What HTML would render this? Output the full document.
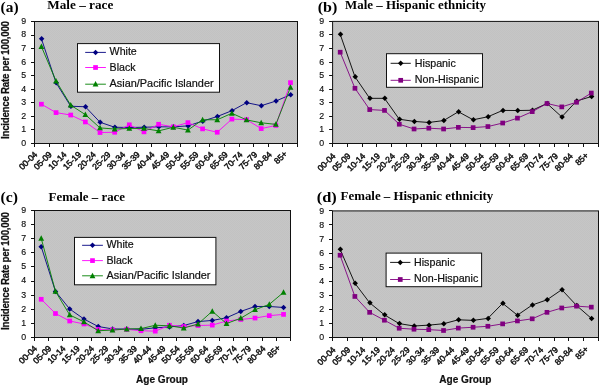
<!DOCTYPE html>
<html lang="en"><head><meta charset="utf-8"><title>Incidence rate by age group</title>
<style>
html,body{margin:0;padding:0;background:#fff;}
body{width:600px;height:386px;overflow:hidden;}
svg{display:block;filter:blur(0.3px);}
text{font-family:"Liberation Sans",Arial,sans-serif;fill:#111;}
.yt{font-size:8.6px;stroke:#111;stroke-width:0.15px;}
.xt{font-size:8.6px;stroke:#111;stroke-width:0.45px;}
.lg{font-size:10.3px;stroke:#111;stroke-width:0.2px;}
.yl{font-size:9.7px;font-weight:bold;stroke:#111;stroke-width:0.25px;}
.xl{font-size:10px;font-weight:bold;stroke:#111;stroke-width:0.2px;}
.pl{font-family:"Liberation Serif","Times New Roman",serif;font-weight:bold;font-size:15px;fill:#000;}
.pt{font-family:"Liberation Serif","Times New Roman",serif;font-weight:bold;font-size:11.8px;fill:#000;}
</style></head><body>
<svg width="600" height="386" viewBox="0 0 600 386">
<defs><pattern id="dither" width="2" height="2" patternUnits="userSpaceOnUse"><rect width="2" height="2" fill="#c6c6c6"/><rect width="1" height="1" fill="#c2c2c2"/><rect x="1" y="1" width="1" height="1" fill="#c2c2c2"/></pattern></defs>
<rect width="600" height="386" fill="#ffffff"/>
<g class="chart chart-a">
<rect x="34.5" y="21.5" width="263.00" height="122.00" fill="url(#dither)" stroke="#111" stroke-width="1"/>
<path d="M31.00 143.50H34.50M31.00 129.50H34.50M31.00 116.50H34.50M31.00 102.50H34.50M31.00 89.50H34.50M31.00 75.50H34.50M31.00 62.50H34.50M31.00 48.50H34.50M31.00 35.50H34.50M31.00 21.50H34.50M34.50 143.50V147.00M49.50 143.50V147.00M63.50 143.50V147.00M78.50 143.50V147.00M92.50 143.50V147.00M107.50 143.50V147.00M122.50 143.50V147.00M136.50 143.50V147.00M151.50 143.50V147.00M166.50 143.50V147.00M180.50 143.50V147.00M195.50 143.50V147.00M209.50 143.50V147.00M224.50 143.50V147.00M239.50 143.50V147.00M253.50 143.50V147.00M268.50 143.50V147.00M282.50 143.50V147.00M297.50 143.50V147.00" stroke="#111" stroke-width="1" fill="none"/>
<text class="yt" x="26.10" y="145.90" text-anchor="end" textLength="4.9" lengthAdjust="spacingAndGlyphs">0</text>
<text class="yt" x="26.10" y="132.34" text-anchor="end" textLength="4.9" lengthAdjust="spacingAndGlyphs">1</text>
<text class="yt" x="26.10" y="118.79" text-anchor="end" textLength="4.9" lengthAdjust="spacingAndGlyphs">2</text>
<text class="yt" x="26.10" y="105.23" text-anchor="end" textLength="4.9" lengthAdjust="spacingAndGlyphs">3</text>
<text class="yt" x="26.10" y="91.68" text-anchor="end" textLength="4.9" lengthAdjust="spacingAndGlyphs">4</text>
<text class="yt" x="26.10" y="78.12" text-anchor="end" textLength="4.9" lengthAdjust="spacingAndGlyphs">5</text>
<text class="yt" x="26.10" y="64.57" text-anchor="end" textLength="4.9" lengthAdjust="spacingAndGlyphs">6</text>
<text class="yt" x="26.10" y="51.01" text-anchor="end" textLength="4.9" lengthAdjust="spacingAndGlyphs">7</text>
<text class="yt" x="26.10" y="37.46" text-anchor="end" textLength="4.9" lengthAdjust="spacingAndGlyphs">8</text>
<text class="yt" x="26.10" y="23.90" text-anchor="end" textLength="4.9" lengthAdjust="spacingAndGlyphs">9</text>
<text class="xt" text-anchor="end" transform="translate(37.81 155.10) rotate(-45)" x="0" y="0" textLength="21.6" lengthAdjust="spacing">00-04</text>
<text class="xt" text-anchor="end" transform="translate(52.47 155.10) rotate(-45)" x="0" y="0" textLength="21.6" lengthAdjust="spacing">05-09</text>
<text class="xt" text-anchor="end" transform="translate(67.13 155.10) rotate(-45)" x="0" y="0" textLength="21.6" lengthAdjust="spacing">10-14</text>
<text class="xt" text-anchor="end" transform="translate(81.80 155.10) rotate(-45)" x="0" y="0" textLength="21.6" lengthAdjust="spacing">15-19</text>
<text class="xt" text-anchor="end" transform="translate(96.46 155.10) rotate(-45)" x="0" y="0" textLength="21.6" lengthAdjust="spacing">20-24</text>
<text class="xt" text-anchor="end" transform="translate(111.13 155.10) rotate(-45)" x="0" y="0" textLength="21.6" lengthAdjust="spacing">25-29</text>
<text class="xt" text-anchor="end" transform="translate(125.79 155.10) rotate(-45)" x="0" y="0" textLength="21.6" lengthAdjust="spacing">30-34</text>
<text class="xt" text-anchor="end" transform="translate(140.45 155.10) rotate(-45)" x="0" y="0" textLength="21.6" lengthAdjust="spacing">35-39</text>
<text class="xt" text-anchor="end" transform="translate(155.12 155.10) rotate(-45)" x="0" y="0" textLength="21.6" lengthAdjust="spacing">40-44</text>
<text class="xt" text-anchor="end" transform="translate(169.78 155.10) rotate(-45)" x="0" y="0" textLength="21.6" lengthAdjust="spacing">45-49</text>
<text class="xt" text-anchor="end" transform="translate(184.45 155.10) rotate(-45)" x="0" y="0" textLength="21.6" lengthAdjust="spacing">50-54</text>
<text class="xt" text-anchor="end" transform="translate(199.11 155.10) rotate(-45)" x="0" y="0" textLength="21.6" lengthAdjust="spacing">55-59</text>
<text class="xt" text-anchor="end" transform="translate(213.77 155.10) rotate(-45)" x="0" y="0" textLength="21.6" lengthAdjust="spacing">60-64</text>
<text class="xt" text-anchor="end" transform="translate(228.44 155.10) rotate(-45)" x="0" y="0" textLength="21.6" lengthAdjust="spacing">65-69</text>
<text class="xt" text-anchor="end" transform="translate(243.10 155.10) rotate(-45)" x="0" y="0" textLength="21.6" lengthAdjust="spacing">70-74</text>
<text class="xt" text-anchor="end" transform="translate(257.77 155.10) rotate(-45)" x="0" y="0" textLength="21.6" lengthAdjust="spacing">75-79</text>
<text class="xt" text-anchor="end" transform="translate(272.43 155.10) rotate(-45)" x="0" y="0" textLength="21.6" lengthAdjust="spacing">80-84</text>
<text class="xt" text-anchor="end" transform="translate(287.79 154.40) rotate(-45)" x="0" y="0" textLength="14.4" lengthAdjust="spacing">85+</text>
<polyline fill="none" stroke="#000080" stroke-width="0.9" points="41.41,38.72 56.06,82.78 70.71,106.23 85.36,106.77 100.01,122.22 114.67,127.24 129.32,127.51 143.97,127.24 158.62,126.83 173.28,126.83 187.93,125.88 202.58,121.14 217.23,116.53 231.89,110.70 246.54,102.70 261.19,105.69 275.84,101.08 290.49,94.71"/>
<path d="M41.61 35.97L44.36 38.72L41.61 41.47L38.86 38.72Z" fill="#000080"/>
<path d="M56.26 80.03L59.01 82.78L56.26 85.53L53.51 82.78Z" fill="#000080"/>
<path d="M70.91 103.48L73.66 106.23L70.91 108.98L68.16 106.23Z" fill="#000080"/>
<path d="M85.56 104.02L88.31 106.77L85.56 109.52L82.81 106.77Z" fill="#000080"/>
<path d="M100.21 119.47L102.96 122.22L100.21 124.97L97.46 122.22Z" fill="#000080"/>
<path d="M114.87 124.49L117.62 127.24L114.87 129.99L112.12 127.24Z" fill="#000080"/>
<path d="M129.52 124.76L132.27 127.51L129.52 130.26L126.77 127.51Z" fill="#000080"/>
<path d="M144.17 124.49L146.92 127.24L144.17 129.99L141.42 127.24Z" fill="#000080"/>
<path d="M158.82 124.08L161.57 126.83L158.82 129.58L156.07 126.83Z" fill="#000080"/>
<path d="M173.48 124.08L176.23 126.83L173.48 129.58L170.73 126.83Z" fill="#000080"/>
<path d="M188.13 123.13L190.88 125.88L188.13 128.63L185.38 125.88Z" fill="#000080"/>
<path d="M202.78 118.39L205.53 121.14L202.78 123.89L200.03 121.14Z" fill="#000080"/>
<path d="M217.43 113.78L220.18 116.53L217.43 119.28L214.68 116.53Z" fill="#000080"/>
<path d="M232.09 107.95L234.84 110.70L232.09 113.45L229.34 110.70Z" fill="#000080"/>
<path d="M246.74 99.95L249.49 102.70L246.74 105.45L243.99 102.70Z" fill="#000080"/>
<path d="M261.39 102.94L264.14 105.69L261.39 108.44L258.64 105.69Z" fill="#000080"/>
<path d="M276.04 98.33L278.79 101.08L276.04 103.83L273.29 101.08Z" fill="#000080"/>
<path d="M290.69 91.96L293.44 94.71L290.69 97.46L287.94 94.71Z" fill="#000080"/>
<polyline fill="none" stroke="#ff00ff" stroke-width="0.9" points="41.41,104.20 56.06,112.60 70.71,115.04 85.36,121.95 100.01,132.53 114.67,132.26 129.32,124.80 143.97,131.85 158.62,124.26 173.28,126.83 187.93,122.63 202.58,128.87 217.23,132.26 231.89,119.11 246.54,119.65 261.19,128.60 275.84,125.48 290.49,82.64"/>
<rect x="39.06" y="101.85" width="4.7" height="4.7" fill="#ff00ff"/>
<rect x="53.71" y="110.25" width="4.7" height="4.7" fill="#ff00ff"/>
<rect x="68.36" y="112.69" width="4.7" height="4.7" fill="#ff00ff"/>
<rect x="83.01" y="119.60" width="4.7" height="4.7" fill="#ff00ff"/>
<rect x="97.66" y="130.18" width="4.7" height="4.7" fill="#ff00ff"/>
<rect x="112.32" y="129.91" width="4.7" height="4.7" fill="#ff00ff"/>
<rect x="126.97" y="122.45" width="4.7" height="4.7" fill="#ff00ff"/>
<rect x="141.62" y="129.50" width="4.7" height="4.7" fill="#ff00ff"/>
<rect x="156.27" y="121.91" width="4.7" height="4.7" fill="#ff00ff"/>
<rect x="170.93" y="124.48" width="4.7" height="4.7" fill="#ff00ff"/>
<rect x="185.58" y="120.28" width="4.7" height="4.7" fill="#ff00ff"/>
<rect x="200.23" y="126.52" width="4.7" height="4.7" fill="#ff00ff"/>
<rect x="214.88" y="129.91" width="4.7" height="4.7" fill="#ff00ff"/>
<rect x="229.54" y="116.76" width="4.7" height="4.7" fill="#ff00ff"/>
<rect x="244.19" y="117.30" width="4.7" height="4.7" fill="#ff00ff"/>
<rect x="258.84" y="126.25" width="4.7" height="4.7" fill="#ff00ff"/>
<rect x="273.49" y="123.13" width="4.7" height="4.7" fill="#ff00ff"/>
<rect x="288.14" y="80.29" width="4.7" height="4.7" fill="#ff00ff"/>
<polyline fill="none" stroke="#008000" stroke-width="0.9" points="41.41,46.58 56.06,81.02 70.71,105.14 85.36,114.63 100.01,127.92 114.67,129.00 129.32,128.46 143.97,128.46 158.62,130.90 173.28,127.24 187.93,130.09 202.58,119.78 217.23,119.78 231.89,113.28 246.54,119.92 261.19,122.77 275.84,124.39 290.49,87.25"/>
<path d="M41.41 43.48L44.31 48.98L38.51 48.98Z" fill="#008000"/>
<path d="M56.06 77.92L58.96 83.42L53.16 83.42Z" fill="#008000"/>
<path d="M70.71 102.04L73.61 107.54L67.81 107.54Z" fill="#008000"/>
<path d="M85.36 111.53L88.26 117.03L82.46 117.03Z" fill="#008000"/>
<path d="M100.01 124.82L102.91 130.32L97.11 130.32Z" fill="#008000"/>
<path d="M114.67 125.90L117.57 131.40L111.77 131.40Z" fill="#008000"/>
<path d="M129.32 125.36L132.22 130.86L126.42 130.86Z" fill="#008000"/>
<path d="M143.97 125.36L146.87 130.86L141.07 130.86Z" fill="#008000"/>
<path d="M158.62 127.80L161.52 133.30L155.72 133.30Z" fill="#008000"/>
<path d="M173.28 124.14L176.18 129.64L170.38 129.64Z" fill="#008000"/>
<path d="M187.93 126.99L190.83 132.49L185.03 132.49Z" fill="#008000"/>
<path d="M202.58 116.68L205.48 122.18L199.68 122.18Z" fill="#008000"/>
<path d="M217.23 116.68L220.13 122.18L214.33 122.18Z" fill="#008000"/>
<path d="M231.89 110.18L234.79 115.68L228.99 115.68Z" fill="#008000"/>
<path d="M246.54 116.82L249.44 122.32L243.64 122.32Z" fill="#008000"/>
<path d="M261.19 119.67L264.09 125.17L258.29 125.17Z" fill="#008000"/>
<path d="M275.84 121.29L278.74 126.79L272.94 126.79Z" fill="#008000"/>
<path d="M290.49 84.15L293.39 89.65L287.59 89.65Z" fill="#008000"/>
<rect x="77.5" y="43.6" width="142" height="48.6" fill="#fff" stroke="#111" stroke-width="1"/>
<path d="M85.2 52.4H105.9" stroke="#000080" stroke-width="0.9"/>
<path d="M95.55 49.65L98.30 52.40L95.55 55.15L92.80 52.40Z" fill="#000080"/>
<text class="lg" x="109.6" y="55.40" textLength="27.2" lengthAdjust="spacingAndGlyphs">White</text>
<path d="M85.2 67.5H105.9" stroke="#ff00ff" stroke-width="0.9"/>
<rect x="93.20" y="65.15" width="4.7" height="4.7" fill="#ff00ff"/>
<text class="lg" x="109.6" y="71.00" textLength="26" lengthAdjust="spacingAndGlyphs">Black</text>
<path d="M85.2 84.2H105.9" stroke="#008000" stroke-width="0.9"/>
<path d="M95.55 81.10L98.45 86.60L92.65 86.60Z" fill="#008000"/>
<text class="lg" x="109.6" y="87.40" textLength="104" lengthAdjust="spacingAndGlyphs">Asian/Pacific Islander</text>
</g>
<g class="chart chart-b">
<rect x="332.6" y="21.4" width="265.90" height="122.10" fill="url(#dither)" stroke="#111" stroke-width="1"/>
<path d="M329.10 143.50H332.60M329.10 129.50H332.60M329.10 116.50H332.60M329.10 102.50H332.60M329.10 89.50H332.60M329.10 75.50H332.60M329.10 62.50H332.60M329.10 48.50H332.60M329.10 34.50H332.60M329.10 21.50H332.60M332.50 143.50V147.00M347.50 143.50V147.00M362.50 143.50V147.00M376.50 143.50V147.00M391.50 143.50V147.00M406.50 143.50V147.00M421.50 143.50V147.00M436.50 143.50V147.00M450.50 143.50V147.00M465.50 143.50V147.00M480.50 143.50V147.00M495.50 143.50V147.00M509.50 143.50V147.00M524.50 143.50V147.00M539.50 143.50V147.00M554.50 143.50V147.00M568.50 143.50V147.00M583.50 143.50V147.00M598.50 143.50V147.00" stroke="#111" stroke-width="1" fill="none"/>
<text class="yt" x="324.20" y="146.00" text-anchor="end" textLength="4.9" lengthAdjust="spacingAndGlyphs">0</text>
<text class="yt" x="324.20" y="132.43" text-anchor="end" textLength="4.9" lengthAdjust="spacingAndGlyphs">1</text>
<text class="yt" x="324.20" y="118.87" text-anchor="end" textLength="4.9" lengthAdjust="spacingAndGlyphs">2</text>
<text class="yt" x="324.20" y="105.30" text-anchor="end" textLength="4.9" lengthAdjust="spacingAndGlyphs">3</text>
<text class="yt" x="324.20" y="91.73" text-anchor="end" textLength="4.9" lengthAdjust="spacingAndGlyphs">4</text>
<text class="yt" x="324.20" y="78.17" text-anchor="end" textLength="4.9" lengthAdjust="spacingAndGlyphs">5</text>
<text class="yt" x="324.20" y="64.60" text-anchor="end" textLength="4.9" lengthAdjust="spacingAndGlyphs">6</text>
<text class="yt" x="324.20" y="51.03" text-anchor="end" textLength="4.9" lengthAdjust="spacingAndGlyphs">7</text>
<text class="yt" x="324.20" y="37.47" text-anchor="end" textLength="4.9" lengthAdjust="spacingAndGlyphs">8</text>
<text class="yt" x="324.20" y="23.90" text-anchor="end" textLength="4.9" lengthAdjust="spacingAndGlyphs">9</text>
<text class="xt" text-anchor="end" transform="translate(336.24 156.60) rotate(-45)" x="0" y="0" textLength="21.6" lengthAdjust="spacing">00-04</text>
<text class="xt" text-anchor="end" transform="translate(351.06 156.60) rotate(-45)" x="0" y="0" textLength="21.6" lengthAdjust="spacing">05-09</text>
<text class="xt" text-anchor="end" transform="translate(365.89 156.60) rotate(-45)" x="0" y="0" textLength="21.6" lengthAdjust="spacing">10-14</text>
<text class="xt" text-anchor="end" transform="translate(380.71 156.60) rotate(-45)" x="0" y="0" textLength="21.6" lengthAdjust="spacing">15-19</text>
<text class="xt" text-anchor="end" transform="translate(395.54 156.60) rotate(-45)" x="0" y="0" textLength="21.6" lengthAdjust="spacing">20-24</text>
<text class="xt" text-anchor="end" transform="translate(410.36 156.60) rotate(-45)" x="0" y="0" textLength="21.6" lengthAdjust="spacing">25-29</text>
<text class="xt" text-anchor="end" transform="translate(425.19 156.60) rotate(-45)" x="0" y="0" textLength="21.6" lengthAdjust="spacing">30-34</text>
<text class="xt" text-anchor="end" transform="translate(440.01 156.60) rotate(-45)" x="0" y="0" textLength="21.6" lengthAdjust="spacing">35-39</text>
<text class="xt" text-anchor="end" transform="translate(454.84 156.60) rotate(-45)" x="0" y="0" textLength="21.6" lengthAdjust="spacing">40-44</text>
<text class="xt" text-anchor="end" transform="translate(469.66 156.60) rotate(-45)" x="0" y="0" textLength="21.6" lengthAdjust="spacing">45-49</text>
<text class="xt" text-anchor="end" transform="translate(484.49 156.60) rotate(-45)" x="0" y="0" textLength="21.6" lengthAdjust="spacing">50-54</text>
<text class="xt" text-anchor="end" transform="translate(499.31 156.60) rotate(-45)" x="0" y="0" textLength="21.6" lengthAdjust="spacing">55-59</text>
<text class="xt" text-anchor="end" transform="translate(514.14 156.60) rotate(-45)" x="0" y="0" textLength="21.6" lengthAdjust="spacing">60-64</text>
<text class="xt" text-anchor="end" transform="translate(528.96 156.60) rotate(-45)" x="0" y="0" textLength="21.6" lengthAdjust="spacing">65-69</text>
<text class="xt" text-anchor="end" transform="translate(543.79 156.60) rotate(-45)" x="0" y="0" textLength="21.6" lengthAdjust="spacing">70-74</text>
<text class="xt" text-anchor="end" transform="translate(558.61 156.60) rotate(-45)" x="0" y="0" textLength="21.6" lengthAdjust="spacing">75-79</text>
<text class="xt" text-anchor="end" transform="translate(573.44 156.60) rotate(-45)" x="0" y="0" textLength="21.6" lengthAdjust="spacing">80-84</text>
<text class="xt" text-anchor="end" transform="translate(588.96 155.90) rotate(-45)" x="0" y="0" textLength="14.4" lengthAdjust="spacing">85+</text>
<polyline fill="none" stroke="#000000" stroke-width="0.9" points="340.19,34.30 354.96,76.76 369.73,98.33 384.50,98.33 399.28,119.22 414.05,121.39 428.82,122.48 443.59,120.58 458.36,111.76 473.14,119.77 487.91,116.78 502.68,110.40 517.45,110.54 532.23,110.27 547.00,103.49 561.77,116.92 576.54,101.04 591.31,96.57"/>
<path d="M340.49 31.55L343.24 34.30L340.49 37.05L337.74 34.30Z" fill="#000000"/>
<path d="M355.26 74.01L358.01 76.76L355.26 79.51L352.51 76.76Z" fill="#000000"/>
<path d="M370.03 95.58L372.78 98.33L370.03 101.08L367.28 98.33Z" fill="#000000"/>
<path d="M384.80 95.58L387.55 98.33L384.80 101.08L382.05 98.33Z" fill="#000000"/>
<path d="M399.58 116.47L402.33 119.22L399.58 121.97L396.83 119.22Z" fill="#000000"/>
<path d="M414.35 118.64L417.10 121.39L414.35 124.14L411.60 121.39Z" fill="#000000"/>
<path d="M429.12 119.73L431.87 122.48L429.12 125.23L426.37 122.48Z" fill="#000000"/>
<path d="M443.89 117.83L446.64 120.58L443.89 123.33L441.14 120.58Z" fill="#000000"/>
<path d="M458.66 109.01L461.41 111.76L458.66 114.51L455.91 111.76Z" fill="#000000"/>
<path d="M473.44 117.02L476.19 119.77L473.44 122.52L470.69 119.77Z" fill="#000000"/>
<path d="M488.21 114.03L490.96 116.78L488.21 119.53L485.46 116.78Z" fill="#000000"/>
<path d="M502.98 107.65L505.73 110.40L502.98 113.15L500.23 110.40Z" fill="#000000"/>
<path d="M517.75 107.79L520.50 110.54L517.75 113.29L515.00 110.54Z" fill="#000000"/>
<path d="M532.52 107.52L535.27 110.27L532.52 113.02L529.77 110.27Z" fill="#000000"/>
<path d="M547.30 100.74L550.05 103.49L547.30 106.24L544.55 103.49Z" fill="#000000"/>
<path d="M562.07 114.17L564.82 116.92L562.07 119.67L559.32 116.92Z" fill="#000000"/>
<path d="M576.84 98.29L579.59 101.04L576.84 103.79L574.09 101.04Z" fill="#000000"/>
<path d="M591.61 93.82L594.36 96.57L591.61 99.32L588.86 96.57Z" fill="#000000"/>
<polyline fill="none" stroke="#800080" stroke-width="0.9" points="340.19,52.20 354.96,88.29 369.73,109.59 384.50,110.40 399.28,124.24 414.05,128.99 428.82,128.18 443.59,128.99 458.36,127.36 473.14,127.63 487.91,126.55 502.68,123.02 517.45,118.14 532.23,111.63 547.00,103.49 561.77,106.88 576.54,102.26 591.31,93.04"/>
<rect x="337.84" y="49.85" width="4.7" height="4.7" fill="#800080"/>
<rect x="352.61" y="85.94" width="4.7" height="4.7" fill="#800080"/>
<rect x="367.38" y="107.24" width="4.7" height="4.7" fill="#800080"/>
<rect x="382.15" y="108.05" width="4.7" height="4.7" fill="#800080"/>
<rect x="396.93" y="121.89" width="4.7" height="4.7" fill="#800080"/>
<rect x="411.70" y="126.64" width="4.7" height="4.7" fill="#800080"/>
<rect x="426.47" y="125.83" width="4.7" height="4.7" fill="#800080"/>
<rect x="441.24" y="126.64" width="4.7" height="4.7" fill="#800080"/>
<rect x="456.01" y="125.01" width="4.7" height="4.7" fill="#800080"/>
<rect x="470.79" y="125.28" width="4.7" height="4.7" fill="#800080"/>
<rect x="485.56" y="124.20" width="4.7" height="4.7" fill="#800080"/>
<rect x="500.33" y="120.67" width="4.7" height="4.7" fill="#800080"/>
<rect x="515.10" y="115.79" width="4.7" height="4.7" fill="#800080"/>
<rect x="529.88" y="109.28" width="4.7" height="4.7" fill="#800080"/>
<rect x="544.65" y="101.14" width="4.7" height="4.7" fill="#800080"/>
<rect x="559.42" y="104.53" width="4.7" height="4.7" fill="#800080"/>
<rect x="574.19" y="99.91" width="4.7" height="4.7" fill="#800080"/>
<rect x="588.96" y="90.69" width="4.7" height="4.7" fill="#800080"/>
<rect x="386.5" y="53.7" width="96" height="33.6" fill="#fff" stroke="#111" stroke-width="1"/>
<path d="M390.6 63.3H410.8" stroke="#000000" stroke-width="0.9"/>
<path d="M400.70 60.55L403.45 63.30L400.70 66.05L397.95 63.30Z" fill="#000000"/>
<text class="lg" x="414.8" y="66.50" textLength="41" lengthAdjust="spacingAndGlyphs">Hispanic</text>
<path d="M390.6 80.3H410.8" stroke="#800080" stroke-width="0.9"/>
<rect x="398.35" y="77.95" width="4.7" height="4.7" fill="#800080"/>
<text class="lg" x="414.8" y="83.10" textLength="64.3" lengthAdjust="spacingAndGlyphs">Non-Hispanic</text>
</g>
<g class="chart chart-c">
<rect x="34.5" y="210.5" width="256.00" height="127.00" fill="url(#dither)" stroke="#111" stroke-width="1"/>
<path d="M31.00 337.50H34.50M31.00 323.50H34.50M31.00 309.50H34.50M31.00 295.50H34.50M31.00 281.50H34.50M31.00 266.50H34.50M31.00 252.50H34.50M31.00 238.50H34.50M31.00 224.50H34.50M31.00 210.50H34.50M34.50 337.50V341.00M48.50 337.50V341.00M62.50 337.50V341.00M77.50 337.50V341.00M91.50 337.50V341.00M105.50 337.50V341.00M119.50 337.50V341.00M134.50 337.50V341.00M148.50 337.50V341.00M162.50 337.50V341.00M176.50 337.50V341.00M190.50 337.50V341.00M205.50 337.50V341.00M219.50 337.50V341.00M233.50 337.50V341.00M247.50 337.50V341.00M262.50 337.50V341.00M276.50 337.50V341.00M290.50 337.50V341.00" stroke="#111" stroke-width="1" fill="none"/>
<text class="yt" x="26.10" y="339.90" text-anchor="end" textLength="4.9" lengthAdjust="spacingAndGlyphs">0</text>
<text class="yt" x="26.10" y="325.79" text-anchor="end" textLength="4.9" lengthAdjust="spacingAndGlyphs">1</text>
<text class="yt" x="26.10" y="311.68" text-anchor="end" textLength="4.9" lengthAdjust="spacingAndGlyphs">2</text>
<text class="yt" x="26.10" y="297.57" text-anchor="end" textLength="4.9" lengthAdjust="spacingAndGlyphs">3</text>
<text class="yt" x="26.10" y="283.46" text-anchor="end" textLength="4.9" lengthAdjust="spacingAndGlyphs">4</text>
<text class="yt" x="26.10" y="269.34" text-anchor="end" textLength="4.9" lengthAdjust="spacingAndGlyphs">5</text>
<text class="yt" x="26.10" y="255.23" text-anchor="end" textLength="4.9" lengthAdjust="spacingAndGlyphs">6</text>
<text class="yt" x="26.10" y="241.12" text-anchor="end" textLength="4.9" lengthAdjust="spacingAndGlyphs">7</text>
<text class="yt" x="26.10" y="227.01" text-anchor="end" textLength="4.9" lengthAdjust="spacingAndGlyphs">8</text>
<text class="yt" x="26.10" y="212.90" text-anchor="end" textLength="4.9" lengthAdjust="spacingAndGlyphs">9</text>
<text class="xt" text-anchor="end" transform="translate(37.61 349.10) rotate(-45)" x="0" y="0" textLength="21.6" lengthAdjust="spacing">00-04</text>
<text class="xt" text-anchor="end" transform="translate(51.89 349.10) rotate(-45)" x="0" y="0" textLength="21.6" lengthAdjust="spacing">05-09</text>
<text class="xt" text-anchor="end" transform="translate(66.16 349.10) rotate(-45)" x="0" y="0" textLength="21.6" lengthAdjust="spacing">10-14</text>
<text class="xt" text-anchor="end" transform="translate(80.44 349.10) rotate(-45)" x="0" y="0" textLength="21.6" lengthAdjust="spacing">15-19</text>
<text class="xt" text-anchor="end" transform="translate(94.71 349.10) rotate(-45)" x="0" y="0" textLength="21.6" lengthAdjust="spacing">20-24</text>
<text class="xt" text-anchor="end" transform="translate(108.99 349.10) rotate(-45)" x="0" y="0" textLength="21.6" lengthAdjust="spacing">25-29</text>
<text class="xt" text-anchor="end" transform="translate(123.26 349.10) rotate(-45)" x="0" y="0" textLength="21.6" lengthAdjust="spacing">30-34</text>
<text class="xt" text-anchor="end" transform="translate(137.54 349.10) rotate(-45)" x="0" y="0" textLength="21.6" lengthAdjust="spacing">35-39</text>
<text class="xt" text-anchor="end" transform="translate(151.81 349.10) rotate(-45)" x="0" y="0" textLength="21.6" lengthAdjust="spacing">40-44</text>
<text class="xt" text-anchor="end" transform="translate(166.09 349.10) rotate(-45)" x="0" y="0" textLength="21.6" lengthAdjust="spacing">45-49</text>
<text class="xt" text-anchor="end" transform="translate(180.36 349.10) rotate(-45)" x="0" y="0" textLength="21.6" lengthAdjust="spacing">50-54</text>
<text class="xt" text-anchor="end" transform="translate(194.64 349.10) rotate(-45)" x="0" y="0" textLength="21.6" lengthAdjust="spacing">55-59</text>
<text class="xt" text-anchor="end" transform="translate(208.91 349.10) rotate(-45)" x="0" y="0" textLength="21.6" lengthAdjust="spacing">60-64</text>
<text class="xt" text-anchor="end" transform="translate(223.19 349.10) rotate(-45)" x="0" y="0" textLength="21.6" lengthAdjust="spacing">65-69</text>
<text class="xt" text-anchor="end" transform="translate(237.46 349.10) rotate(-45)" x="0" y="0" textLength="21.6" lengthAdjust="spacing">70-74</text>
<text class="xt" text-anchor="end" transform="translate(251.74 349.10) rotate(-45)" x="0" y="0" textLength="21.6" lengthAdjust="spacing">75-79</text>
<text class="xt" text-anchor="end" transform="translate(266.01 349.10) rotate(-45)" x="0" y="0" textLength="21.6" lengthAdjust="spacing">80-84</text>
<text class="xt" text-anchor="end" transform="translate(280.99 348.40) rotate(-45)" x="0" y="0" textLength="14.4" lengthAdjust="spacing">85+</text>
<polyline fill="none" stroke="#000080" stroke-width="0.9" points="41.21,246.65 55.47,291.38 69.72,309.02 83.97,319.04 98.23,326.52 112.48,328.92 126.74,329.06 140.99,329.34 155.25,327.79 169.50,326.94 183.76,325.53 198.01,321.58 212.27,320.45 226.52,317.77 240.78,311.42 255.03,306.48 269.28,306.48 283.54,307.47"/>
<path d="M41.21 243.90L43.96 246.65L41.21 249.40L38.46 246.65Z" fill="#000080"/>
<path d="M55.47 288.63L58.22 291.38L55.47 294.13L52.72 291.38Z" fill="#000080"/>
<path d="M69.72 306.27L72.47 309.02L69.72 311.77L66.97 309.02Z" fill="#000080"/>
<path d="M83.97 316.29L86.72 319.04L83.97 321.79L81.22 319.04Z" fill="#000080"/>
<path d="M98.23 323.77L100.98 326.52L98.23 329.27L95.48 326.52Z" fill="#000080"/>
<path d="M112.48 326.17L115.23 328.92L112.48 331.67L109.73 328.92Z" fill="#000080"/>
<path d="M126.74 326.31L129.49 329.06L126.74 331.81L123.99 329.06Z" fill="#000080"/>
<path d="M140.99 326.59L143.74 329.34L140.99 332.09L138.24 329.34Z" fill="#000080"/>
<path d="M155.25 325.04L158.00 327.79L155.25 330.54L152.50 327.79Z" fill="#000080"/>
<path d="M169.50 324.19L172.25 326.94L169.50 329.69L166.75 326.94Z" fill="#000080"/>
<path d="M183.76 322.78L186.51 325.53L183.76 328.28L181.01 325.53Z" fill="#000080"/>
<path d="M198.01 318.83L200.76 321.58L198.01 324.33L195.26 321.58Z" fill="#000080"/>
<path d="M212.27 317.70L215.02 320.45L212.27 323.20L209.52 320.45Z" fill="#000080"/>
<path d="M226.52 315.02L229.27 317.77L226.52 320.52L223.77 317.77Z" fill="#000080"/>
<path d="M240.78 308.67L243.53 311.42L240.78 314.17L238.03 311.42Z" fill="#000080"/>
<path d="M255.03 303.73L257.78 306.48L255.03 309.23L252.28 306.48Z" fill="#000080"/>
<path d="M269.28 303.73L272.03 306.48L269.28 309.23L266.53 306.48Z" fill="#000080"/>
<path d="M283.54 304.72L286.29 307.47L283.54 310.22L280.79 307.47Z" fill="#000080"/>
<polyline fill="none" stroke="#ff00ff" stroke-width="0.9" points="41.21,299.28 55.47,313.53 69.72,321.01 83.97,323.98 98.23,329.48 112.48,329.76 126.74,329.34 140.99,330.75 155.25,331.17 169.50,325.25 183.76,326.52 198.01,325.53 212.27,325.11 226.52,321.01 240.78,319.46 255.03,318.05 269.28,315.65 283.54,314.38"/>
<rect x="38.86" y="296.93" width="4.7" height="4.7" fill="#ff00ff"/>
<rect x="53.12" y="311.18" width="4.7" height="4.7" fill="#ff00ff"/>
<rect x="67.37" y="318.66" width="4.7" height="4.7" fill="#ff00ff"/>
<rect x="81.62" y="321.63" width="4.7" height="4.7" fill="#ff00ff"/>
<rect x="95.88" y="327.13" width="4.7" height="4.7" fill="#ff00ff"/>
<rect x="110.13" y="327.41" width="4.7" height="4.7" fill="#ff00ff"/>
<rect x="124.39" y="326.99" width="4.7" height="4.7" fill="#ff00ff"/>
<rect x="138.64" y="328.40" width="4.7" height="4.7" fill="#ff00ff"/>
<rect x="152.90" y="328.82" width="4.7" height="4.7" fill="#ff00ff"/>
<rect x="167.15" y="322.90" width="4.7" height="4.7" fill="#ff00ff"/>
<rect x="181.41" y="324.17" width="4.7" height="4.7" fill="#ff00ff"/>
<rect x="195.66" y="323.18" width="4.7" height="4.7" fill="#ff00ff"/>
<rect x="209.92" y="322.76" width="4.7" height="4.7" fill="#ff00ff"/>
<rect x="224.17" y="318.66" width="4.7" height="4.7" fill="#ff00ff"/>
<rect x="238.43" y="317.11" width="4.7" height="4.7" fill="#ff00ff"/>
<rect x="252.68" y="315.70" width="4.7" height="4.7" fill="#ff00ff"/>
<rect x="266.93" y="313.30" width="4.7" height="4.7" fill="#ff00ff"/>
<rect x="281.19" y="312.03" width="4.7" height="4.7" fill="#ff00ff"/>
<polyline fill="none" stroke="#008000" stroke-width="0.9" points="41.21,238.32 55.47,291.38 69.72,314.95 83.97,321.86 98.23,330.75 112.48,330.04 126.74,329.06 140.99,328.63 155.25,325.25 169.50,325.81 183.76,328.07 198.01,323.98 212.27,311.28 226.52,323.55 240.78,318.19 255.03,309.72 269.28,304.36 283.54,292.37"/>
<path d="M41.21 235.22L44.11 240.72L38.31 240.72Z" fill="#008000"/>
<path d="M55.47 288.28L58.37 293.78L52.57 293.78Z" fill="#008000"/>
<path d="M69.72 311.85L72.62 317.35L66.82 317.35Z" fill="#008000"/>
<path d="M83.97 318.76L86.87 324.26L81.07 324.26Z" fill="#008000"/>
<path d="M98.23 327.65L101.13 333.15L95.33 333.15Z" fill="#008000"/>
<path d="M112.48 326.94L115.38 332.44L109.58 332.44Z" fill="#008000"/>
<path d="M126.74 325.96L129.64 331.46L123.84 331.46Z" fill="#008000"/>
<path d="M140.99 325.53L143.89 331.03L138.09 331.03Z" fill="#008000"/>
<path d="M155.25 322.15L158.15 327.65L152.35 327.65Z" fill="#008000"/>
<path d="M169.50 322.71L172.40 328.21L166.60 328.21Z" fill="#008000"/>
<path d="M183.76 324.97L186.66 330.47L180.86 330.47Z" fill="#008000"/>
<path d="M198.01 320.88L200.91 326.38L195.11 326.38Z" fill="#008000"/>
<path d="M212.27 308.18L215.17 313.68L209.37 313.68Z" fill="#008000"/>
<path d="M226.52 320.45L229.42 325.95L223.62 325.95Z" fill="#008000"/>
<path d="M240.78 315.09L243.68 320.59L237.88 320.59Z" fill="#008000"/>
<path d="M255.03 306.62L257.93 312.12L252.13 312.12Z" fill="#008000"/>
<path d="M269.28 301.26L272.18 306.76L266.38 306.76Z" fill="#008000"/>
<path d="M283.54 289.27L286.44 294.77L280.64 294.77Z" fill="#008000"/>
<rect x="74.5" y="237.4" width="141.4" height="47.4" fill="#fff" stroke="#111" stroke-width="1"/>
<path d="M82.1 245.3H102.9" stroke="#000080" stroke-width="0.9"/>
<path d="M92.50 242.55L95.25 245.30L92.50 248.05L89.75 245.30Z" fill="#000080"/>
<text class="lg" x="106.5" y="248.30" textLength="27.2" lengthAdjust="spacingAndGlyphs">White</text>
<path d="M82.1 260.6H102.9" stroke="#ff00ff" stroke-width="0.9"/>
<rect x="90.15" y="258.25" width="4.7" height="4.7" fill="#ff00ff"/>
<text class="lg" x="106.5" y="263.90" textLength="26" lengthAdjust="spacingAndGlyphs">Black</text>
<path d="M82.1 275.8H102.9" stroke="#008000" stroke-width="0.9"/>
<path d="M92.50 272.70L95.40 278.20L89.60 278.20Z" fill="#008000"/>
<text class="lg" x="106.5" y="278.90" textLength="104" lengthAdjust="spacingAndGlyphs">Asian/Pacific Islander</text>
</g>
<g class="chart chart-d">
<rect x="332.5" y="210.9" width="266.00" height="126.60" fill="url(#dither)" stroke="#111" stroke-width="1"/>
<path d="M329.00 337.50H332.50M329.00 323.50H332.50M329.00 309.50H332.50M329.00 295.50H332.50M329.00 281.50H332.50M329.00 267.50H332.50M329.00 253.50H332.50M329.00 239.50H332.50M329.00 224.50H332.50M329.00 210.50H332.50M332.50 337.50V341.00M347.50 337.50V341.00M362.50 337.50V341.00M376.50 337.50V341.00M391.50 337.50V341.00M406.50 337.50V341.00M421.50 337.50V341.00M435.50 337.50V341.00M450.50 337.50V341.00M465.50 337.50V341.00M480.50 337.50V341.00M495.50 337.50V341.00M509.50 337.50V341.00M524.50 337.50V341.00M539.50 337.50V341.00M554.50 337.50V341.00M568.50 337.50V341.00M583.50 337.50V341.00M598.50 337.50V341.00" stroke="#111" stroke-width="1" fill="none"/>
<text class="yt" x="324.10" y="340.25" text-anchor="end" textLength="4.9" lengthAdjust="spacingAndGlyphs">0</text>
<text class="yt" x="324.10" y="326.18" text-anchor="end" textLength="4.9" lengthAdjust="spacingAndGlyphs">1</text>
<text class="yt" x="324.10" y="312.12" text-anchor="end" textLength="4.9" lengthAdjust="spacingAndGlyphs">2</text>
<text class="yt" x="324.10" y="298.05" text-anchor="end" textLength="4.9" lengthAdjust="spacingAndGlyphs">3</text>
<text class="yt" x="324.10" y="283.98" text-anchor="end" textLength="4.9" lengthAdjust="spacingAndGlyphs">4</text>
<text class="yt" x="324.10" y="269.92" text-anchor="end" textLength="4.9" lengthAdjust="spacingAndGlyphs">5</text>
<text class="yt" x="324.10" y="255.85" text-anchor="end" textLength="4.9" lengthAdjust="spacingAndGlyphs">6</text>
<text class="yt" x="324.10" y="241.78" text-anchor="end" textLength="4.9" lengthAdjust="spacingAndGlyphs">7</text>
<text class="yt" x="324.10" y="227.72" text-anchor="end" textLength="4.9" lengthAdjust="spacingAndGlyphs">8</text>
<text class="yt" x="324.10" y="213.65" text-anchor="end" textLength="4.9" lengthAdjust="spacingAndGlyphs">9</text>
<text class="xt" text-anchor="end" transform="translate(336.14 350.40) rotate(-45)" x="0" y="0" textLength="21.6" lengthAdjust="spacing">00-04</text>
<text class="xt" text-anchor="end" transform="translate(350.97 350.40) rotate(-45)" x="0" y="0" textLength="21.6" lengthAdjust="spacing">05-09</text>
<text class="xt" text-anchor="end" transform="translate(365.80 350.40) rotate(-45)" x="0" y="0" textLength="21.6" lengthAdjust="spacing">10-14</text>
<text class="xt" text-anchor="end" transform="translate(380.63 350.40) rotate(-45)" x="0" y="0" textLength="21.6" lengthAdjust="spacing">15-19</text>
<text class="xt" text-anchor="end" transform="translate(395.46 350.40) rotate(-45)" x="0" y="0" textLength="21.6" lengthAdjust="spacing">20-24</text>
<text class="xt" text-anchor="end" transform="translate(410.29 350.40) rotate(-45)" x="0" y="0" textLength="21.6" lengthAdjust="spacing">25-29</text>
<text class="xt" text-anchor="end" transform="translate(425.12 350.40) rotate(-45)" x="0" y="0" textLength="21.6" lengthAdjust="spacing">30-34</text>
<text class="xt" text-anchor="end" transform="translate(439.95 350.40) rotate(-45)" x="0" y="0" textLength="21.6" lengthAdjust="spacing">35-39</text>
<text class="xt" text-anchor="end" transform="translate(454.78 350.40) rotate(-45)" x="0" y="0" textLength="21.6" lengthAdjust="spacing">40-44</text>
<text class="xt" text-anchor="end" transform="translate(469.62 350.40) rotate(-45)" x="0" y="0" textLength="21.6" lengthAdjust="spacing">45-49</text>
<text class="xt" text-anchor="end" transform="translate(484.45 350.40) rotate(-45)" x="0" y="0" textLength="21.6" lengthAdjust="spacing">50-54</text>
<text class="xt" text-anchor="end" transform="translate(499.28 350.40) rotate(-45)" x="0" y="0" textLength="21.6" lengthAdjust="spacing">55-59</text>
<text class="xt" text-anchor="end" transform="translate(514.11 350.40) rotate(-45)" x="0" y="0" textLength="21.6" lengthAdjust="spacing">60-64</text>
<text class="xt" text-anchor="end" transform="translate(528.94 350.40) rotate(-45)" x="0" y="0" textLength="21.6" lengthAdjust="spacing">65-69</text>
<text class="xt" text-anchor="end" transform="translate(543.77 350.40) rotate(-45)" x="0" y="0" textLength="21.6" lengthAdjust="spacing">70-74</text>
<text class="xt" text-anchor="end" transform="translate(558.60 350.40) rotate(-45)" x="0" y="0" textLength="21.6" lengthAdjust="spacing">75-79</text>
<text class="xt" text-anchor="end" transform="translate(573.43 350.40) rotate(-45)" x="0" y="0" textLength="21.6" lengthAdjust="spacing">80-84</text>
<text class="xt" text-anchor="end" transform="translate(588.96 349.70) rotate(-45)" x="0" y="0" textLength="14.4" lengthAdjust="spacing">85+</text>
<polyline fill="none" stroke="#000000" stroke-width="0.9" points="340.09,249.32 354.87,283.22 369.64,302.78 384.42,314.87 399.20,323.60 413.98,325.99 428.76,325.14 443.53,323.74 458.31,319.80 473.09,320.36 487.87,318.39 502.64,303.34 517.42,315.16 532.20,305.03 546.98,299.82 561.76,289.70 576.53,305.45 591.31,318.39"/>
<path d="M340.39 246.57L343.14 249.32L340.39 252.07L337.64 249.32Z" fill="#000000"/>
<path d="M355.17 280.47L357.92 283.22L355.17 285.97L352.42 283.22Z" fill="#000000"/>
<path d="M369.94 300.03L372.69 302.78L369.94 305.53L367.19 302.78Z" fill="#000000"/>
<path d="M384.72 312.12L387.47 314.87L384.72 317.62L381.97 314.87Z" fill="#000000"/>
<path d="M399.50 320.85L402.25 323.60L399.50 326.35L396.75 323.60Z" fill="#000000"/>
<path d="M414.28 323.24L417.03 325.99L414.28 328.74L411.53 325.99Z" fill="#000000"/>
<path d="M429.06 322.39L431.81 325.14L429.06 327.89L426.31 325.14Z" fill="#000000"/>
<path d="M443.83 320.99L446.58 323.74L443.83 326.49L441.08 323.74Z" fill="#000000"/>
<path d="M458.61 317.05L461.36 319.80L458.61 322.55L455.86 319.80Z" fill="#000000"/>
<path d="M473.39 317.61L476.14 320.36L473.39 323.11L470.64 320.36Z" fill="#000000"/>
<path d="M488.17 315.64L490.92 318.39L488.17 321.14L485.42 318.39Z" fill="#000000"/>
<path d="M502.94 300.59L505.69 303.34L502.94 306.09L500.19 303.34Z" fill="#000000"/>
<path d="M517.72 312.41L520.47 315.16L517.72 317.91L514.97 315.16Z" fill="#000000"/>
<path d="M532.50 302.28L535.25 305.03L532.50 307.78L529.75 305.03Z" fill="#000000"/>
<path d="M547.28 297.07L550.03 299.82L547.28 302.57L544.53 299.82Z" fill="#000000"/>
<path d="M562.06 286.95L564.81 289.70L562.06 292.45L559.31 289.70Z" fill="#000000"/>
<path d="M576.83 302.70L579.58 305.45L576.83 308.20L574.08 305.45Z" fill="#000000"/>
<path d="M591.61 315.64L594.36 318.39L591.61 321.14L588.86 318.39Z" fill="#000000"/>
<polyline fill="none" stroke="#800080" stroke-width="0.9" points="340.09,255.23 354.87,296.45 369.64,312.34 384.42,320.22 399.20,328.24 413.98,329.22 428.76,329.64 443.53,330.49 458.31,328.10 473.09,327.25 487.87,326.27 502.64,323.88 517.42,320.92 532.20,318.81 546.98,312.34 561.76,307.98 576.53,306.15 591.31,307.14"/>
<rect x="337.74" y="252.88" width="4.7" height="4.7" fill="#800080"/>
<rect x="352.52" y="294.10" width="4.7" height="4.7" fill="#800080"/>
<rect x="367.29" y="309.99" width="4.7" height="4.7" fill="#800080"/>
<rect x="382.07" y="317.87" width="4.7" height="4.7" fill="#800080"/>
<rect x="396.85" y="325.89" width="4.7" height="4.7" fill="#800080"/>
<rect x="411.63" y="326.87" width="4.7" height="4.7" fill="#800080"/>
<rect x="426.41" y="327.29" width="4.7" height="4.7" fill="#800080"/>
<rect x="441.18" y="328.14" width="4.7" height="4.7" fill="#800080"/>
<rect x="455.96" y="325.75" width="4.7" height="4.7" fill="#800080"/>
<rect x="470.74" y="324.90" width="4.7" height="4.7" fill="#800080"/>
<rect x="485.52" y="323.92" width="4.7" height="4.7" fill="#800080"/>
<rect x="500.29" y="321.53" width="4.7" height="4.7" fill="#800080"/>
<rect x="515.07" y="318.57" width="4.7" height="4.7" fill="#800080"/>
<rect x="529.85" y="316.46" width="4.7" height="4.7" fill="#800080"/>
<rect x="544.63" y="309.99" width="4.7" height="4.7" fill="#800080"/>
<rect x="559.41" y="305.63" width="4.7" height="4.7" fill="#800080"/>
<rect x="574.18" y="303.80" width="4.7" height="4.7" fill="#800080"/>
<rect x="588.96" y="304.79" width="4.7" height="4.7" fill="#800080"/>
<rect x="386.1" y="253.1" width="95.5" height="33.6" fill="#fff" stroke="#111" stroke-width="1"/>
<path d="M390.1 262.4H410.4" stroke="#000000" stroke-width="0.9"/>
<path d="M400.25 259.65L403.00 262.40L400.25 265.15L397.50 262.40Z" fill="#000000"/>
<text class="lg" x="414.0" y="265.60" textLength="41" lengthAdjust="spacingAndGlyphs">Hispanic</text>
<path d="M390.1 279.5H410.4" stroke="#800080" stroke-width="0.9"/>
<rect x="397.90" y="277.15" width="4.7" height="4.7" fill="#800080"/>
<text class="lg" x="414.0" y="282.20" textLength="64.3" lengthAdjust="spacingAndGlyphs">Non-Hispanic</text>
</g>
<text class="yl" text-anchor="middle" transform="translate(8.7 80) rotate(-90) scale(1 1.06)" textLength="118" lengthAdjust="spacing">Incidence Rate per 100,000</text>
<text class="yl" text-anchor="middle" transform="translate(8.7 271) rotate(-90) scale(1 1.06)" textLength="118" lengthAdjust="spacing">Incidence Rate per 100,000</text>
<text class="xl" x="136" y="382.6" textLength="52" lengthAdjust="spacingAndGlyphs">Age Group</text>
<text class="xl" x="439.3" y="383" textLength="52" lengthAdjust="spacingAndGlyphs">Age Group</text>
<text class="pl" x="0.6" y="11.8" textLength="18" lengthAdjust="spacingAndGlyphs">(a)</text>
<text class="pt" x="47.3" y="9.2" textLength="66" lengthAdjust="spacingAndGlyphs">Male – race</text>
<text class="pl" x="317.7" y="12" textLength="19.6" lengthAdjust="spacingAndGlyphs">(b)</text>
<text class="pt" x="345" y="9.3" textLength="141" lengthAdjust="spacingAndGlyphs">Male – Hispanic ethnicity</text>
<text class="pl" x="0.6" y="201.6" textLength="17.4" lengthAdjust="spacingAndGlyphs">(c)</text>
<text class="pt" x="48.6" y="200.8" textLength="76.4" lengthAdjust="spacingAndGlyphs">Female – race</text>
<text class="pl" x="316.8" y="202.2" textLength="20" lengthAdjust="spacingAndGlyphs">(d)</text>
<text class="pt" x="340.6" y="200.4" textLength="152.6" lengthAdjust="spacingAndGlyphs">Female – Hispanic ethnicity</text>
</svg>
</body></html>
